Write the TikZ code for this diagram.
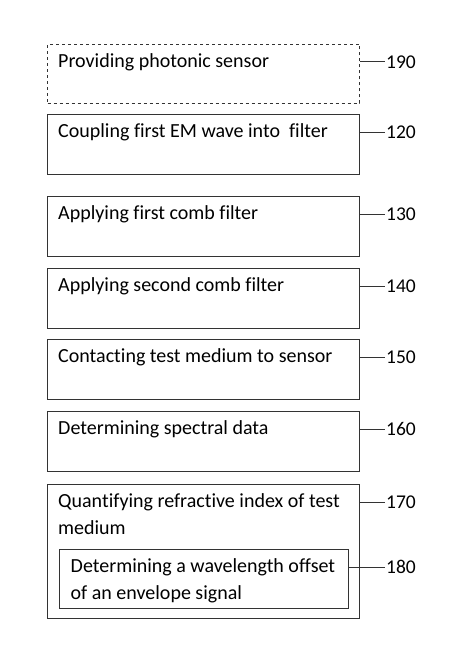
\documentclass[tikz,border=0pt]{standalone}
\usepackage{fontspec}
\setmainfont{Carlito}[Ligatures=NoCommon]
\usetikzlibrary{positioning}

\tikzset{
  stepbox/.style={draw=black!80, line width=1pt, minimum width=312pt, inner sep=0pt, anchor=north west},
  steptext/.style={anchor=base west, inner sep=0pt, align=left, font=\fontsize{20}{27}\selectfont},
  reflabel/.style={anchor=west, inner sep=1pt, font=\fontsize{19.5}{23}\selectfont},
  leader/.style={draw=black!80, line width=1pt},
}

\begin{document}
\begin{tikzpicture}[x=1pt,y=-1pt]
    \useasboundingbox (0,0) rectangle (474,666);

    % optional first step
    \node[stepbox, dashed, minimum height=59pt] (box190) at (47,44) {};
    \node[steptext] (txt190) at (58,67.5) {Providing photonic sensor};
    \node[reflabel] (lab190) at (385,62) {190};
    \draw[leader] (box190.east |- lab190.west) -- (lab190.west);

    \foreach \n/\top/\txt in {
        120/114/Coupling first EM wave into\ \ filter,
        130/196/Applying first comb filter,
        140/268/Applying second comb filter,
        150/339/Contacting test medium to sensor,
        160/411/Determining spectral data
      } {
        \node[stepbox, minimum height=60pt] (box\n) at (47,\top) {};
        \node[steptext] (txt\n) at (58,\top+23.5) {\txt};
        \node[reflabel] (lab\n) at (385,\top+18) {\n};
        \draw[leader] (box\n.east |- lab\n.west) -- (lab\n.west);
      }

    % last step with nested sub-step (base = last line)
    \node[stepbox, minimum height=134pt] (box170) at (47,484) {};
    \node[steptext] (txt170) at (58,534.5) {Quantifying refractive index of test\\medium};
    \node[reflabel] (lab170) at (385,502) {170};
    \draw[leader] (box170.east |- lab170.west) -- (lab170.west);

    \node[stepbox, minimum width=289pt, minimum height=59pt] (box180) at (59,549) {};
    \node[steptext] (txt180) at (70.5,599.5) {Determining a wavelength offset\\of an envelope signal};
    \node[reflabel] (lab180) at (385,567) {180};
    \draw[leader] (box180.east |- lab180.west) -- (lab180.west);
  \end{tikzpicture}
\end{document}
